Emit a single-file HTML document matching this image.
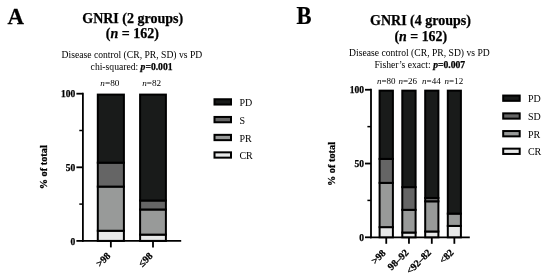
<!DOCTYPE html>
<html lang="en"><head><meta charset="utf-8"><title>GNRI response figure</title>
<style>
html,body{margin:0;padding:0;background:#fff;}
body{width:550px;height:279px;overflow:hidden;}
svg{display:block;}
text{font-family:"Liberation Serif","Times New Roman",serif;}
.b{font-weight:bold;stroke:#000;stroke-width:0.25px;}
.i{font-style:italic;}
</style></head><body>
<svg width="550" height="279" viewBox="0 0 550 279">
<rect width="550" height="279" fill="#fff"/>
<g fill="#000">
<!-- Panel A -->
<text transform="translate(7.4 24.3) scale(0.95 1)" class="b" font-size="24">A</text>
<text x="132.7" y="22.9" text-anchor="middle" class="b" font-size="14">GNRI (2 groups)</text>
<text x="132.3" y="38.3" text-anchor="middle" class="b" font-size="14">(<tspan class="i">n</tspan> = 162)</text>
<text x="131.9" y="57.9" text-anchor="middle" font-size="9.65">Disease control (CR, PR, SD) vs PD</text>
<text x="131.6" y="69.9" text-anchor="middle" font-size="9.65">chi-squared: <tspan class="b i">p</tspan><tspan class="b">=0.001</tspan></text>
<text x="109.85" y="85.7" text-anchor="middle" font-size="9.2"><tspan class="i">n</tspan>=80</text>
<text x="151.7" y="85.7" text-anchor="middle" font-size="9.2"><tspan class="i">n</tspan>=82</text>
<path d="M82.9 92.80V241.80" stroke="#000" stroke-width="1.8" fill="none"/>
<path d="M82.00 240.9H181.2" stroke="#000" stroke-width="1.8" fill="none"/>
<path d="M76.40 240.90H82.9" stroke="#000" stroke-width="1.8"/>
<path d="M79.30 204.10H82.9" stroke="#000" stroke-width="1.5"/>
<path d="M76.40 167.30H82.9" stroke="#000" stroke-width="1.8"/>
<path d="M79.30 130.50H82.9" stroke="#000" stroke-width="1.5"/>
<path d="M76.40 93.70H82.9" stroke="#000" stroke-width="1.8"/>
<path d="M110.85 240.9V247.40" stroke="#000" stroke-width="1.8"/>
<path d="M153.00 240.9V247.40" stroke="#000" stroke-width="1.8"/>
<text x="75.30" y="245.00" text-anchor="end" class="b" font-size="9.5">0</text>
<text x="75.30" y="170.70" text-anchor="end" class="b" font-size="9.5">50</text>
<text x="75.30" y="97.00" text-anchor="end" class="b" font-size="9.5">100</text>
<rect x="97.80" y="230.76" width="26.10" height="10.14" fill="#e7e8e8" stroke="#000" stroke-width="2.0"/>
<rect x="97.80" y="186.60" width="26.10" height="44.16" fill="#989a99" stroke="#000" stroke-width="2.0"/>
<rect x="97.80" y="162.68" width="26.10" height="23.92" fill="#656565" stroke="#000" stroke-width="2.0"/>
<rect x="97.80" y="94.60" width="26.10" height="68.08" fill="#191b1a" stroke="#000" stroke-width="2.0"/>
<rect x="140.10" y="234.62" width="25.80" height="6.28" fill="#e7e8e8" stroke="#000" stroke-width="2.0"/>
<rect x="140.10" y="209.49" width="25.80" height="25.13" fill="#989a99" stroke="#000" stroke-width="2.0"/>
<rect x="140.10" y="200.51" width="25.80" height="8.98" fill="#656565" stroke="#000" stroke-width="2.0"/>
<rect x="140.10" y="94.60" width="25.80" height="105.91" fill="#191b1a" stroke="#000" stroke-width="2.0"/>
<text transform="translate(47.1 167.25) rotate(-90)" text-anchor="middle" class="b" font-size="10.3">% of total</text>
<text transform="translate(111 256.5) rotate(-45)" text-anchor="end" class="b" font-size="10">&gt;98</text>
<text transform="translate(153.3 256.5) rotate(-45)" text-anchor="end" class="b" font-size="10">≤98</text>
<rect x="214.5" y="99.25" width="16.5" height="5.3" fill="#191b1a" stroke="#000" stroke-width="2"/>
<text x="239.4" y="105.90" font-size="10">PD</text>
<rect x="214.5" y="116.95" width="16.5" height="5.3" fill="#656565" stroke="#000" stroke-width="2"/>
<text x="239.4" y="123.60" font-size="10">S</text>
<rect x="214.5" y="134.85" width="16.5" height="5.3" fill="#989a99" stroke="#000" stroke-width="2"/>
<text x="239.4" y="141.50" font-size="10">PR</text>
<rect x="214.5" y="152.35" width="16.5" height="5.3" fill="#e7e8e8" stroke="#000" stroke-width="2"/>
<text x="239.4" y="159.00" font-size="10">CR</text>
<!-- Panel B -->
<text transform="translate(296.5 23.9) scale(0.93 1)" class="b" font-size="24.3">B</text>
<text x="420.5" y="25.1" text-anchor="middle" class="b" font-size="14">GNRI (4 groups)</text>
<text x="420.8" y="40.7" text-anchor="middle" class="b" font-size="13.9">(<tspan class="i">n</tspan> = 162)</text>
<text x="419.4" y="56.2" text-anchor="middle" font-size="9.65">Disease control (CR, PR, SD) vs PD</text>
<text x="419.8" y="67.7" text-anchor="middle" font-size="9.65">Fisher’s exact: <tspan class="b i">p</tspan><tspan class="b">=0.007</tspan></text>
<text x="386.3" y="83.6" text-anchor="middle" font-size="9.0"><tspan class="i">n</tspan>=80</text>
<text x="407.7" y="83.6" text-anchor="middle" font-size="9.0"><tspan class="i">n</tspan>=26</text>
<text x="431.4" y="83.6" text-anchor="middle" font-size="9.0"><tspan class="i">n</tspan>=44</text>
<text x="453.9" y="83.6" text-anchor="middle" font-size="9.0"><tspan class="i">n</tspan>=12</text>
<path d="M371.0 88.85V238.20" stroke="#000" stroke-width="1.8" fill="none"/>
<path d="M370.10 237.3H469.8" stroke="#000" stroke-width="1.8" fill="none"/>
<path d="M365.00 237.30H371.0" stroke="#000" stroke-width="1.8"/>
<path d="M367.40 200.41H371.0" stroke="#000" stroke-width="1.5"/>
<path d="M365.00 163.53H371.0" stroke="#000" stroke-width="1.8"/>
<path d="M367.40 126.64H371.0" stroke="#000" stroke-width="1.5"/>
<path d="M365.00 89.75H371.0" stroke="#000" stroke-width="1.8"/>
<path d="M386.25 237.3V243.80" stroke="#000" stroke-width="1.8"/>
<path d="M408.95 237.3V243.80" stroke="#000" stroke-width="1.8"/>
<path d="M431.80 237.3V243.80" stroke="#000" stroke-width="1.8"/>
<path d="M454.35 237.3V243.80" stroke="#000" stroke-width="1.8"/>
<text x="364.10" y="240.80" text-anchor="end" class="b" font-size="9.5">0</text>
<text x="364.10" y="167.22" text-anchor="end" class="b" font-size="9.5">50</text>
<text x="364.10" y="92.75" text-anchor="end" class="b" font-size="9.5">100</text>
<rect x="379.60" y="227.13" width="13.30" height="10.17" fill="#e7e8e8" stroke="#000" stroke-width="2.0"/>
<rect x="379.60" y="182.87" width="13.30" height="44.27" fill="#989a99" stroke="#000" stroke-width="2.0"/>
<rect x="379.60" y="158.89" width="13.30" height="23.98" fill="#656565" stroke="#000" stroke-width="2.0"/>
<rect x="379.60" y="90.65" width="13.30" height="68.24" fill="#191b1a" stroke="#000" stroke-width="2.0"/>
<rect x="402.30" y="232.53" width="13.30" height="4.78" fill="#e7e8e8" stroke="#000" stroke-width="2.0"/>
<rect x="402.30" y="209.83" width="13.30" height="22.70" fill="#989a99" stroke="#000" stroke-width="2.0"/>
<rect x="402.30" y="187.13" width="13.30" height="22.70" fill="#656565" stroke="#000" stroke-width="2.0"/>
<rect x="402.30" y="90.65" width="13.30" height="96.48" fill="#191b1a" stroke="#000" stroke-width="2.0"/>
<rect x="425.20" y="231.49" width="13.20" height="5.81" fill="#e7e8e8" stroke="#000" stroke-width="2.0"/>
<rect x="425.20" y="201.31" width="13.20" height="30.18" fill="#989a99" stroke="#000" stroke-width="2.0"/>
<rect x="425.20" y="197.96" width="13.20" height="3.35" fill="#656565" stroke="#000" stroke-width="2.0"/>
<rect x="425.20" y="90.65" width="13.20" height="107.31" fill="#191b1a" stroke="#000" stroke-width="2.0"/>
<rect x="447.80" y="225.90" width="13.10" height="11.40" fill="#e7e8e8" stroke="#000" stroke-width="2.0"/>
<rect x="447.80" y="213.61" width="13.10" height="12.30" fill="#989a99" stroke="#000" stroke-width="2.0"/>
<rect x="447.80" y="90.65" width="13.10" height="122.96" fill="#191b1a" stroke="#000" stroke-width="2.0"/>
<text transform="translate(335.2 164.0) rotate(-90)" text-anchor="middle" class="b" font-size="10.3">% of total</text>
<text transform="translate(386.3 253.6) rotate(-45)" text-anchor="end" class="b" font-size="10">&gt;98</text>
<text transform="translate(409.3 253.1) rotate(-45)" text-anchor="end" class="b" font-size="10">98–92</text>
<text transform="translate(431.9 253.1) rotate(-45)" text-anchor="end" class="b" font-size="10">&lt;92–82</text>
<text transform="translate(454.4 253.1) rotate(-45)" text-anchor="end" class="b" font-size="10">&lt;82</text>
<rect x="503.2" y="95.55" width="16.5" height="5.3" fill="#191b1a" stroke="#000" stroke-width="2"/>
<text x="527.9" y="102.20" font-size="10">PD</text>
<rect x="503.2" y="113.35" width="16.5" height="5.3" fill="#656565" stroke="#000" stroke-width="2"/>
<text x="527.9" y="120.00" font-size="10">SD</text>
<rect x="503.2" y="131.05" width="16.5" height="5.3" fill="#989a99" stroke="#000" stroke-width="2"/>
<text x="527.9" y="137.70" font-size="10">PR</text>
<rect x="503.2" y="148.65" width="16.5" height="5.3" fill="#e7e8e8" stroke="#000" stroke-width="2"/>
<text x="527.9" y="155.30" font-size="10">CR</text>
</g>
</svg>
</body></html>
